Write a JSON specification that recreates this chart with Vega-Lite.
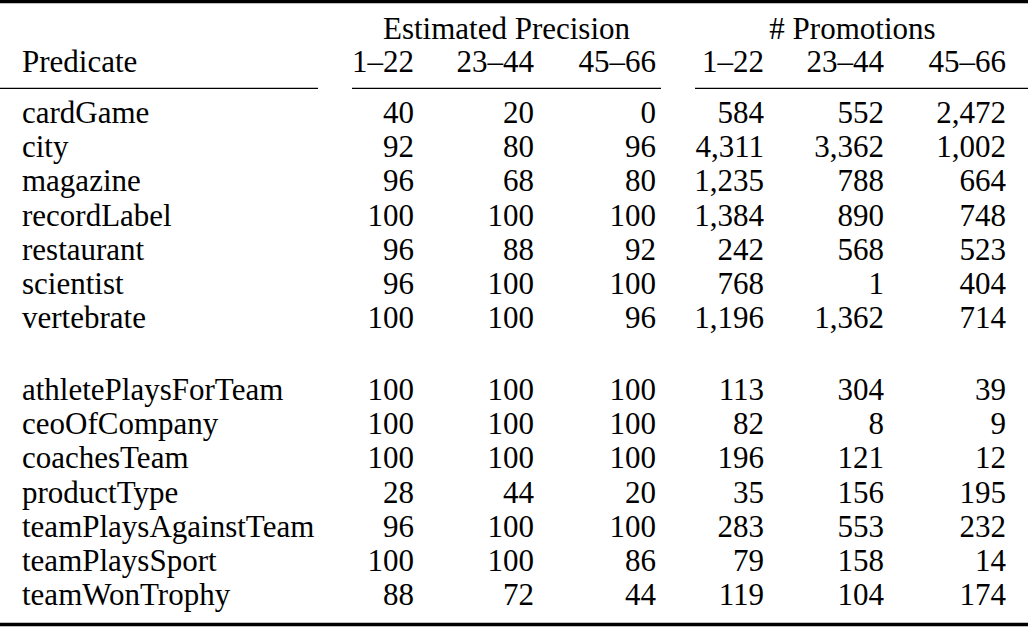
{
  "$schema": "https://vega.github.io/schema/vega-lite/v6.json",
  "width": 1030,
  "height": 627,
  "autosize": "none",
  "padding": 0,
  "background": "white",
  "datasets": {
    "table": [
      {"Predicate": "cardGame", "line": 4, "p1": 40, "p2": 20, "p3": 0, "n1": 584, "n2": 552, "n3": 2472},
      {"Predicate": "city", "line": 5, "p1": 92, "p2": 80, "p3": 96, "n1": 4311, "n2": 3362, "n3": 1002},
      {"Predicate": "magazine", "line": 6, "p1": 96, "p2": 68, "p3": 80, "n1": 1235, "n2": 788, "n3": 664},
      {"Predicate": "recordLabel", "line": 7, "p1": 100, "p2": 100, "p3": 100, "n1": 1384, "n2": 890, "n3": 748},
      {"Predicate": "restaurant", "line": 8, "p1": 96, "p2": 88, "p3": 92, "n1": 242, "n2": 568, "n3": 523},
      {"Predicate": "scientist", "line": 9, "p1": 96, "p2": 100, "p3": 100, "n1": 768, "n2": 1, "n3": 404},
      {"Predicate": "vertebrate", "line": 10, "p1": 100, "p2": 100, "p3": 96, "n1": 1196, "n2": 1362, "n3": 714},
      {"Predicate": "athletePlaysForTeam", "line": 11, "p1": 100, "p2": 100, "p3": 100, "n1": 113, "n2": 304, "n3": 39},
      {"Predicate": "ceoOfCompany", "line": 12, "p1": 100, "p2": 100, "p3": 100, "n1": 82, "n2": 8, "n3": 9},
      {"Predicate": "coachesTeam", "line": 13, "p1": 100, "p2": 100, "p3": 100, "n1": 196, "n2": 121, "n3": 12},
      {"Predicate": "productType", "line": 14, "p1": 28, "p2": 44, "p3": 20, "n1": 35, "n2": 156, "n3": 195},
      {"Predicate": "teamPlaysAgainstTeam", "line": 15, "p1": 96, "p2": 100, "p3": 100, "n1": 283, "n2": 553, "n3": 232},
      {"Predicate": "teamPlaysSport", "line": 16, "p1": 100, "p2": 100, "p3": 86, "n1": 79, "n2": 158, "n3": 14},
      {"Predicate": "teamWonTrophy", "line": 17, "p1": 88, "p2": 72, "p3": 44, "n1": 119, "n2": 104, "n3": 174}
    ],
    "columns": [
      {"key": "Predicate", "col": 0, "label": "Predicate"},
      {"key": "p1", "col": 2, "label": "1–22"},
      {"key": "p2", "col": 3, "label": "23–44"},
      {"key": "p3", "col": 4, "label": "45–66"},
      {"key": "n1", "col": 5, "label": "1–22"},
      {"key": "n2", "col": 6, "label": "23–44"},
      {"key": "n3", "col": 7, "label": "45–66"}
    ],
    "groups": [
      {"group": "pred", "label": "", "from": 0, "to": 1},
      {"group": "prec", "label": "Estimated Precision", "from": 1, "to": 4},
      {"group": "prom", "label": "# Promotions", "from": 4, "to": 7}
    ]
  },
  "config": {
    "view": {"stroke": null},
    "axis": {"disable": true},
    "text": {"font": "Liberation Serif", "fontSize": 31, "color": "black", "baseline": "alphabetic"},
    "rule": {"color": "black"}
  },
  "layer": [
    {
      "data": {"values": [{"rule": "top", "line": 0}, {"rule": "bottom", "line": 18}]},
      "mark": {"type": "rule", "strokeWidth": 3.6},
      "encoding": {
        "x": {"datum": 0, "type": "quantitative", "axis": null,
              "scale": {"domain": [0, 1, 2, 3, 4, 5, 6, 7], "range": [0, 335, 436, 556, 678, 786, 906, 1028]}},
        "x2": {"datum": 7},
        "y": {"field": "line", "type": "quantitative", "axis": null,
              "scale": {"domain": [0, 1, 2, 3, 4, 5, 6, 7, 8, 9, 10, 11, 12, 13, 14, 15, 16, 17, 18],
                        "range": [1.5, 39, 72, 88.3, 123, 157.2, 191.3, 225.5, 259.7, 293.8, 328, 400, 434.2, 468.3, 502.5, 536.7, 570.8, 605, 624.5]}}
      }
    },
    {
      "data": {"name": "groups"},
      "transform": [{"filter": "datum.group === 'pred'"}],
      "mark": {"type": "rule", "strokeWidth": 1.3, "x2Offset": -17},
      "encoding": {
        "x": {"field": "from", "type": "quantitative"},
        "x2": {"field": "to"},
        "y": {"datum": 3, "type": "quantitative"}
      }
    },
    {
      "data": {"name": "groups"},
      "transform": [{"filter": "datum.group === 'prec'"}],
      "mark": {"type": "rule", "strokeWidth": 1.3, "xOffset": 17, "x2Offset": -17},
      "encoding": {
        "x": {"field": "from", "type": "quantitative"},
        "x2": {"field": "to"},
        "y": {"datum": 3, "type": "quantitative"}
      }
    },
    {
      "data": {"name": "groups"},
      "transform": [{"filter": "datum.group === 'prom'"}],
      "mark": {"type": "rule", "strokeWidth": 1.3, "xOffset": 17},
      "encoding": {
        "x": {"field": "from", "type": "quantitative"},
        "x2": {"field": "to"},
        "y": {"datum": 3, "type": "quantitative"}
      }
    },
    {
      "data": {"name": "groups"},
      "transform": [{"filter": "datum.group === 'prec'"}],
      "mark": {"type": "text", "align": "center"},
      "encoding": {
        "x": {"datum": 2.5875, "type": "quantitative"},
        "y": {"datum": 1, "type": "quantitative"},
        "text": {"field": "label"}
      }
    },
    {
      "data": {"name": "groups"},
      "transform": [{"filter": "datum.group === 'prom'"}],
      "mark": {"type": "text", "align": "center"},
      "encoding": {
        "x": {"datum": 5.554, "type": "quantitative"},
        "y": {"datum": 1, "type": "quantitative"},
        "text": {"field": "label"}
      }
    },
    {
      "data": {"name": "columns"},
      "transform": [{"filter": "datum.key === 'Predicate'"}],
      "mark": {"type": "text", "align": "left", "dx": 22},
      "encoding": {
        "x": {"field": "col", "type": "quantitative"},
        "y": {"datum": 2, "type": "quantitative"},
        "text": {"field": "label"}
      }
    },
    {
      "data": {"name": "columns"},
      "transform": [{"filter": "datum.key !== 'Predicate'"}],
      "mark": {"type": "text", "align": "right", "dx": -22},
      "encoding": {
        "x": {"field": "col", "type": "quantitative"},
        "y": {"datum": 2, "type": "quantitative"},
        "text": {"field": "label"}
      }
    },
    {
      "data": {"name": "table"},
      "mark": {"type": "text", "align": "left", "dx": 22},
      "encoding": {
        "x": {"datum": 0, "type": "quantitative"},
        "y": {"field": "line", "type": "quantitative"},
        "text": {"field": "Predicate"}
      }
    },
    {
      "data": {"name": "table"},
      "transform": [
        {"fold": ["p1", "p2", "p3", "n1", "n2", "n3"], "as": ["key", "value"]},
        {"lookup": "key", "from": {"data": {"name": "columns"}, "key": "key", "fields": ["col"]}}
      ],
      "mark": {"type": "text", "align": "right", "dx": -22},
      "encoding": {
        "x": {"field": "col", "type": "quantitative"},
        "y": {"field": "line", "type": "quantitative"},
        "text": {"field": "value", "type": "quantitative", "format": ","}
      }
    }
  ]
}
